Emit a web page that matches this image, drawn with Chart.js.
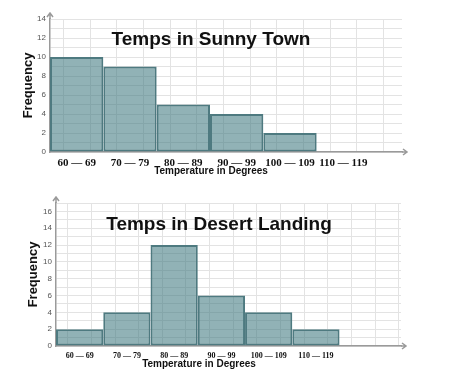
<!DOCTYPE html>
<html lang="en">

<head>
    <meta charset="UTF-8">
    <title>Temps histograms</title>
    <style>
        html, body {
            margin: 0;
            padding: 0;
            background: #fff;
        }
        canvas {
            display: block;
        }
    </style>
</head>

<body>
    <canvas id="sunny" width="474" height="190"></canvas>
    <canvas id="desert" width="474" height="197"></canvas>
    <script src="https://cdn.jsdelivr.net/npm/chart.js@4"></script>
    <script>
        const binLabels = ['60 — 69', '70 — 79', '80 — 89', '90 — 99', '100 — 109', '110 — 119'];
        const sunnyTown = [10, 9, 5, 4, 2, 0];
        const desertLanding = [2, 4, 12, 6, 4, 2];
        const sunnyYMax = 14;
        const desertYMax = 17;
        const yLabelStep = 2;

        const barFill = 'rgba(65, 123, 130, 0.58)';
        const barBorder = '#4e7a80';
        const gridColor = '#e3e3e3';
        const axisColor = '#9a9a9a';

        // draws the big title inside the plot, the x axis title and the axis arrows
        const overlay = {
            id: 'overlay',
            afterDraw(chart, args, opts) {
                const ctx = chart.ctx;
                const area = chart.chartArea;
                ctx.save();
                ctx.strokeStyle = axisColor;
                ctx.lineWidth = 1.5;
                ctx.beginPath();
                ctx.moveTo(area.left, area.top);
                ctx.lineTo(area.left, area.top - opts.arrowUp);
                ctx.moveTo(area.left - 3, area.top - opts.arrowUp + 4);
                ctx.lineTo(area.left, area.top - opts.arrowUp);
                ctx.lineTo(area.left + 3, area.top - opts.arrowUp + 4);
                ctx.moveTo(area.right, area.bottom);
                ctx.lineTo(area.right + opts.arrowRight, area.bottom);
                ctx.moveTo(area.right + opts.arrowRight - 4, area.bottom - 3);
                ctx.lineTo(area.right + opts.arrowRight, area.bottom);
                ctx.lineTo(area.right + opts.arrowRight - 4, area.bottom + 3);
                ctx.stroke();

                ctx.fillStyle = '#111';
                ctx.textAlign = 'center';
                ctx.textBaseline = 'middle';
                opts.texts.forEach(t => {
                    ctx.font = t.font;
                    ctx.fillText(t.text, t.x, t.y);
                });
                ctx.restore();
            }
        };

        function histogram(id, values, yMax, xMax, yWidth, xHeight, pad, texts, titlePad, tickFont) {
            return new Chart(document.getElementById(id), {
                type: 'bar',
                data: {
                    datasets: [{
                        data: values.map((v, i) => ({ x: i + 0.5, y: v })),
                        backgroundColor: barFill,
                        borderColor: barBorder,
                        borderWidth: 2,
                        borderSkipped: false,
                        // bar width comes from the half-bin grid ticks, so 2 = one full bin
                        barPercentage: 2,
                        categoryPercentage: 1
                    }]
                },
                options: {
                    responsive: false,
                    animation: false,
                    layout: { padding: pad },
                    scales: {
                        x: {
                            type: 'linear',
                            offset: false,
                            min: 0,
                            max: xMax,
                            afterBuildTicks: (scale) => {
                                const ticks = [];
                                for (let v = 0; v <= xMax; v += 0.5) {
                                    ticks.push({ value: v });
                                }
                                scale.ticks = ticks;
                            },
                            afterFit: (scale) => { scale.height = xHeight; },
                            grid: { color: gridColor, drawTicks: false },
                            border: { color: axisColor, width: 1.5 },
                            ticks: {
                                autoSkip: false,
                                maxRotation: 0,
                                padding: 5,
                                color: '#111',
                                font: tickFont,
                                callback: (v) => {
                                    const i = v - 0.5;
                                    return Number.isInteger(i) && binLabels[i] ? binLabels[i] : '';
                                }
                            }
                        },
                        y: {
                            min: 0,
                            max: yMax,
                            afterBuildTicks: (scale) => {
                                const ticks = [];
                                for (let v = 0; v <= yMax; v++) {
                                    ticks.push({ value: v });
                                }
                                scale.ticks = ticks;
                            },
                            afterFit: (scale) => { scale.width = yWidth; },
                            grid: { color: gridColor, drawTicks: false },
                            border: { color: axisColor, width: 1.5 },
                            ticks: {
                                autoSkip: false,
                                padding: 4,
                                color: '#555',
                                font: { family: 'Liberation Sans', size: 8 },
                                callback: (v) => (v % yLabelStep === 0 ? v : '')
                            },
                            title: {
                                display: true,
                                text: 'Frequency',
                                color: '#111',
                                padding: { top: titlePad, bottom: 0 },
                                font: { family: 'Liberation Sans', size: 13, weight: 'bold' }
                            }
                        }
                    },
                    plugins: {
                        legend: { display: false },
                        tooltip: { enabled: false },
                        overlay: { arrowUp: 6, arrowRight: 5, texts: texts }
                    }
                },
                plugins: [overlay]
            });
        }

        histogram('sunny', sunnyTown, sunnyYMax, 6.6, 50, 38,
            { left: 0, right: 72, top: 19, bottom: 0 },
            [
                { text: 'Temps in Sunny Town', x: 211, y: 40, font: 'bold 19px "Liberation Sans"' },
                { text: 'Temperature in Degrees', x: 211, y: 171, font: 'bold 10px "Liberation Sans"' }
            ],
            21, { family: 'Liberation Serif', size: 11, weight: 'bold' });

        histogram('desert', desertLanding, desertYMax, 7.3, 56, 41,
            { left: 0, right: 73, top: 13, bottom: 0 },
            [
                { text: 'Temps in Desert Landing', x: 219, y: 35, font: 'bold 19px "Liberation Sans"' },
                { text: 'Temperature in Degrees', x: 199, y: 174, font: 'bold 10px "Liberation Sans"' }
            ],
            26, { family: 'Liberation Serif', size: 8, weight: 'bold' });
    </script>
</body>

</html>
